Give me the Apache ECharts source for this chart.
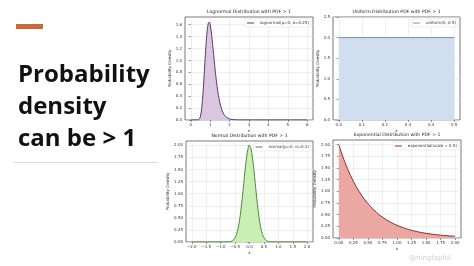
<!DOCTYPE html>
<html>
<head>
<meta charset="utf-8">
<script src="https://cdn.jsdelivr.net/npm/echarts@6/dist/echarts.min.js"></script>
<style>
    html, body { margin: 0; padding: 0; background: #fff; }
    #chart { width: 474px; height: 266px; }
</style>
</head>
<body>
<div id="chart"></div>
<script>
// 左侧标题
var headLines = ['Probability', 'density', 'can be > 1'];

// 子图标题 / 图例
var plotTitles = [
    'Lognormal Distribution with PDF > 1',
    'Uniform Distribution PDF with PDF > 1',
    'Normal Distribution with PDF > 1',
    'Exponential Distribution with PDF > 1'
];
var legendNames = [
    'lognormal(\u03bc=0, \u03c3=0.25)',
    'uniform(0, 0.5)',
    'normal(\u03bc=0, \u03c3=0.2)',
    'exponential(scale = 0.5)'
];

// 对数正态
var logX = [0, 0.3, 0.4, 0.45, 0.5, 0.55, 0.6, 0.65, 0.7, 0.75, 0.8, 0.85, 0.9, 0.95, 1.0, 1.05, 1.1, 1.15, 1.2, 1.25,
    1.3, 1.35, 1.4, 1.45, 1.5, 1.6, 1.7, 1.8, 2.0, 2.25, 2.5, 3, 4, 5, 6];
var logY = [0, 0, 0.005, 0.022, 0.068, 0.166, 0.33, 0.556, 0.824, 1.097, 1.339, 1.52, 1.622, 1.645, 1.596, 1.491, 1.349, 1.187, 1.019, 0.857,
    0.708, 0.575, 0.461, 0.364, 0.286, 0.17, 0.099, 0.056, 0.017, 0.004, 0.001, 0, 0, 0, 0];

// 均匀分布
var uniX = [0, 0.5];
var uniY = [2, 2];

// 正态
var normX = [-2, -1, -0.8, -0.7, -0.6, -0.5, -0.45, -0.4, -0.35, -0.3, -0.25, -0.2, -0.15, -0.1, -0.05, 0,
    0.05, 0.1, 0.15, 0.2, 0.25, 0.3, 0.35, 0.4, 0.45, 0.5, 0.6, 0.7, 0.8, 1, 2];
var normY = [0, 0, 0.001, 0.004, 0.022, 0.088, 0.159, 0.27, 0.432, 0.648, 0.913, 1.21, 1.506, 1.76, 1.934, 1.995,
    1.934, 1.76, 1.506, 1.21, 0.913, 0.648, 0.432, 0.27, 0.159, 0.088, 0.022, 0.004, 0.001, 0, 0];

// 指数
var expX = [0, 0.1, 0.2, 0.3, 0.4, 0.5, 0.6, 0.7, 0.8, 0.9, 1.0, 1.1, 1.2, 1.3, 1.4, 1.5, 1.6, 1.7, 1.8, 1.9, 2.0];
var expY = [2.0, 1.637, 1.341, 1.098, 0.899, 0.736, 0.602, 0.493, 0.404, 0.331, 0.271, 0.222, 0.181, 0.149, 0.122,
    0.1, 0.082, 0.067, 0.055, 0.045, 0.037];

// 刻度
var logXTicks = [0, 1, 2, 3, 4, 5, 6];
var logYTicks = [0, 0.2, 0.4, 0.6, 0.8, 1.0, 1.2, 1.4, 1.6];
var uniXTicks = [0, 0.1, 0.2, 0.3, 0.4, 0.5];
var uniYTicks = [0, 0.5, 1.0, 1.5, 2.0, 2.5];
var normXTicks = [-2, -1.5, -1, -0.5, 0, 0.5, 1, 1.5, 2];
var normYTicks = [0, 0.25, 0.5, 0.75, 1, 1.25, 1.5, 1.75, 2];
var expXTicks = [0, 0.25, 0.5, 0.75, 1, 1.25, 1.5, 1.75, 2];
var expYTicks = [0, 0.25, 0.5, 0.75, 1, 1.25, 1.5, 1.75, 2];

var lineColors = ['#5b3a6e', '#7892b0', '#4f8a3c', '#8e2e2e'];
var fillColors = ['#dbc6e0', '#d0deef', '#c9efb4', '#eba8a3'];

var panels = [
    {left: 185, top: 17, width: 128, height: 103},
    {left: 333, top: 17, width: 127, height: 103},
    {left: 186, top: 141, width: 127, height: 101},
    {left: 333, top: 140, width: 128, height: 98}
];

var smallFont = 'DejaVu Sans';

function zip(xs, ys) {
    var out = [];
    for (var i = 0; i < xs.length; i++) out.push([xs[i], ys[i]]);
    return out;
}

function fmt(d) {
    return function (v) {
        return Number(v).toFixed(d).replace('-', '\u2212');
    };
}

function makeAxis(gi, min, max, ticks, digits, name, isY) {
    return {
        type: 'value',
        gridIndex: gi,
        min: min,
        max: max,
        name: name,
        nameLocation: 'middle',
        nameGap: isY ? 12 : 9,
        nameTextStyle: {fontSize: 4, color: '#333', fontFamily: smallFont},
        axisLine: {show: false},
        axisTick: {show: true, length: 2, customValues: ticks, lineStyle: {color: '#555', width: 0.6}},
        axisLabel: {fontSize: 4, color: '#333', margin: 3, fontFamily: smallFont,
            customValues: ticks, formatter: fmt(digits)},
        splitLine: {show: true, lineStyle: {color: '#e4e4e4', width: 0.6}}
    };
}

var xAxes = [
    makeAxis(0, -0.3, 6.3, logXTicks, 0, 'x', false),
    makeAxis(1, -0.025, 0.525, uniXTicks, 1, 'x', false),
    makeAxis(2, -2.2, 2.2, normXTicks, 1, 'x', false),
    makeAxis(3, -0.1, 2.1, expXTicks, 2, 'x', false)
];
var yAxes = [
    makeAxis(0, 0, 1.73, logYTicks, 1, 'Probability Density', true),
    makeAxis(1, 0, 2.5, uniYTicks, 1, 'Probability Density', true),
    makeAxis(2, 0, 2.09, normYTicks, 2, 'Probability Density', true),
    makeAxis(3, 0, 2.1, expYTicks, 2, 'Probability Density', true)
];

var seriesData = [zip(logX, logY), zip(uniX, uniY), zip(normX, normY), zip(expX, expY)];

var grids = [], series = [], legends = [], graphics = [];

for (var i = 0; i < 4; i++) {
    var p = panels[i];
    grids.push({
        left: p.left, top: p.top, width: p.width, height: p.height,
        show: true, borderColor: '#555', borderWidth: 0.8, backgroundColor: 'transparent'
    });
    series.push({
        name: legendNames[i],
        type: 'line',
        xAxisIndex: i,
        yAxisIndex: i,
        data: seriesData[i],
        smooth: i === 1 ? false : 0.3,
        showSymbol: false,
        color: lineColors[i],
        lineStyle: {color: lineColors[i], width: 1},
        areaStyle: {color: fillColors[i], opacity: 1, origin: 'start'}
    });
    legends.push({
        data: [legendNames[i]],
        right: 474 - p.left - p.width + 2,
        top: p.top + 2,
        icon: 'rect',
        itemWidth: 7,
        itemHeight: 1,
        padding: [2, 2],
        borderColor: '#d8d8d8',
        borderWidth: 0.5,
        borderRadius: 1,
        backgroundColor: 'rgba(255,255,255,0.85)',
        textStyle: {fontSize: 4, color: '#333', fontFamily: smallFont, padding: [0, 0, 0, 1]}
    });
    graphics.push({
        type: 'text',
        x: p.left + p.width / 2,
        y: p.top - 3,
        style: {
            text: plotTitles[i], fill: '#222', align: 'center', verticalAlign: 'bottom',
            font: '4.6px "DejaVu Sans"'
        }
    });
}

// 左侧标题与装饰
graphics.push({type: 'rect', shape: {x: 16, y: 24, width: 27, height: 5}, style: {fill: '#c8693b'}});
for (var k = 0; k < headLines.length; k++) {
    graphics.push({
        type: 'text',
        x: 18,
        y: 75 + k * 32,
        style: {
            text: headLines[k], fill: '#111', align: 'left', verticalAlign: 'middle',
            font: 'bold 24px "Open Sans"'
        }
    });
}
graphics.push({type: 'line', shape: {x1: 14, y1: 162.5, x2: 158, y2: 162.5}, style: {stroke: '#dcdcdc', lineWidth: 1}});
graphics.push({
    type: 'text', x: 430, y: 258,
    style: {text: '@ningfaphil', fill: '#d0d0d0', align: 'center', verticalAlign: 'middle', font: '7px "DejaVu Sans"'}
});

var chart = echarts.init(document.getElementById('chart'), null, {renderer: 'canvas'});
chart.setOption({
    animation: false,
    backgroundColor: '#fff',
    grid: grids,
    xAxis: xAxes,
    yAxis: yAxes,
    legend: legends,
    series: series,
    graphic: graphics
});
</script>
</body>
</html>
